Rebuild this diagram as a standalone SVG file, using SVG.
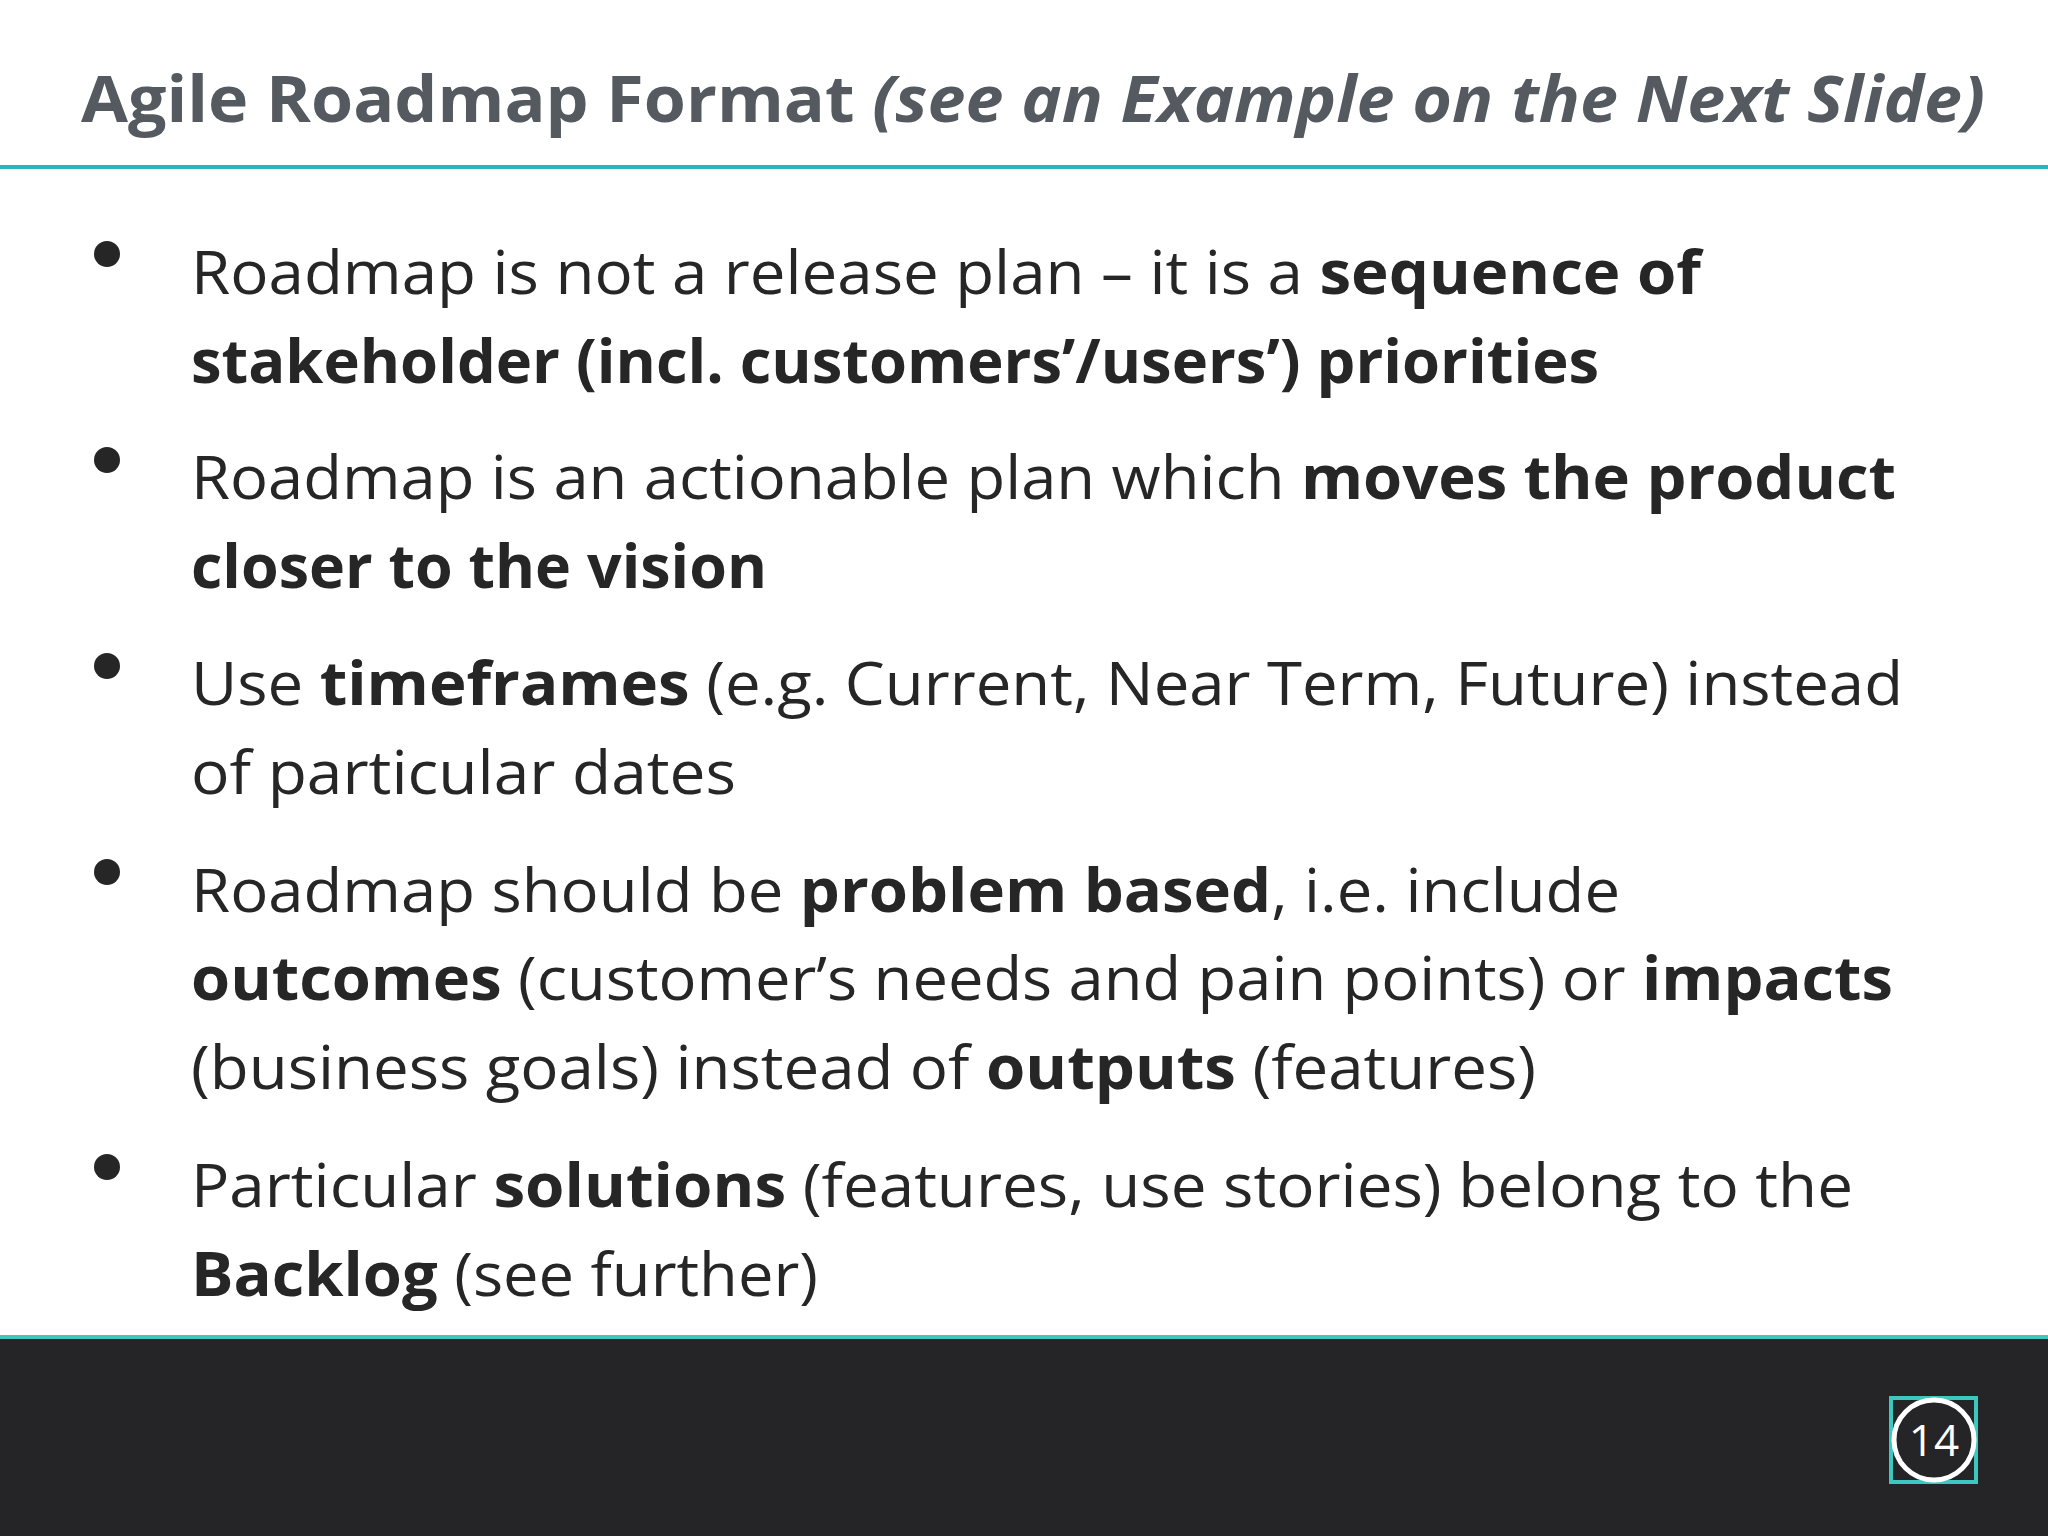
<svg xmlns="http://www.w3.org/2000/svg" width="2048" height="1536" viewBox="0 0 2048 1536">
<style>
.t{font-family:"Open Sans","Noto Sans",sans-serif;font-size:60px;fill:#262626}
.b{font-weight:bold}
.ttl{font-family:"Open Sans","Noto Sans",sans-serif;font-size:64px;font-weight:bold;fill:#555a60}
</style>
<rect width="2048" height="1536" fill="#ffffff"/>
<g id="title">
<text class="ttl" x="81" y="122" textLength="1904" lengthAdjust="spacingAndGlyphs">Agile Roadmap Format <tspan font-style="italic">(see an Example on the Next Slide)</tspan></text>
<rect x="0" y="165" width="2048" height="4" fill="#2bb5b5"/>
</g>
<g id="bullets" fill="#262626">
<circle cx="107" cy="254" r="13"/>
<circle cx="107" cy="460" r="13"/>
<circle cx="107" cy="666" r="13"/>
<circle cx="107" cy="872" r="13"/>
<circle cx="107" cy="1167" r="13"/>
</g>
<g id="body">
<text class="t" x="191" y="294" textLength="1510" lengthAdjust="spacingAndGlyphs">Roadmap is not a release plan – it is a <tspan class="b">sequence of</tspan></text>
<text class="t b" x="191" y="383" textLength="1408" lengthAdjust="spacingAndGlyphs">stakeholder (incl. customers’/users’) priorities</text>
<text class="t" x="191" y="499" textLength="1705" lengthAdjust="spacingAndGlyphs">Roadmap is an actionable plan which <tspan class="b">moves the product</tspan></text>
<text class="t b" x="191" y="588" textLength="576" lengthAdjust="spacingAndGlyphs">closer to the vision</text>
<text class="t" x="191" y="705" textLength="1712" lengthAdjust="spacingAndGlyphs">Use <tspan class="b">timeframes</tspan> (e.g. Current, Near Term, Future) instead</text>
<text class="t" x="191" y="794" textLength="545" lengthAdjust="spacingAndGlyphs">of particular dates</text>
<text class="t" x="191" y="912" textLength="1429" lengthAdjust="spacingAndGlyphs">Roadmap should be <tspan class="b">problem based</tspan>, i.e. include</text>
<text class="t" x="191" y="1000" textLength="1702" lengthAdjust="spacingAndGlyphs"><tspan class="b">outcomes</tspan> (customer’s needs and pain points) or <tspan class="b">impacts</tspan></text>
<text class="t" x="191" y="1089" textLength="1345" lengthAdjust="spacingAndGlyphs">(business goals) instead of <tspan class="b">outputs</tspan> (features)</text>
<text class="t" x="191" y="1207" textLength="1662" lengthAdjust="spacingAndGlyphs">Particular <tspan class="b">solutions</tspan> (features, use stories) belong to the</text>
<text class="t" x="191" y="1296" textLength="627" lengthAdjust="spacingAndGlyphs"><tspan class="b">Backlog</tspan> (see further)</text>
</g>
<g id="footer">
<rect x="0" y="1339" width="2048" height="197" fill="#252427"/>
<rect x="0" y="1335" width="2048" height="4" fill="#3cc8c0"/>
<rect x="1891" y="1398" width="85" height="84" fill="none" stroke="#3cc8c0" stroke-width="4"/>
<circle cx="1934" cy="1440" r="40" fill="none" stroke="#ffffff" stroke-width="5"/>
<text x="1934" y="1456" text-anchor="middle" font-family="Open Sans, sans-serif" font-size="44" fill="#ffffff">14</text>
</g>
</svg>
